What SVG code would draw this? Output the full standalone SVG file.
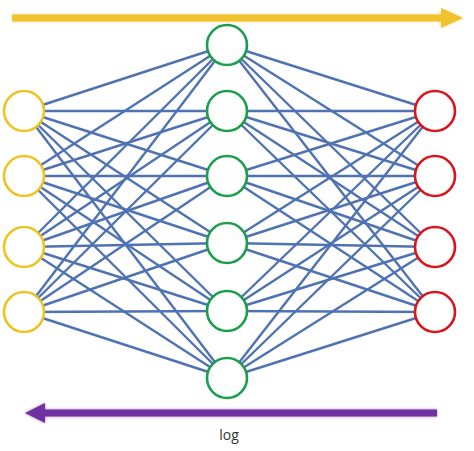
<svg xmlns="http://www.w3.org/2000/svg" width="474" height="451" viewBox="0 0 474 451">
<defs>
<filter id="glow" x="-5%" y="-100%" width="110%" height="300%"><feGaussianBlur stdDeviation="1.5"/></filter>
<style>
.c line{stroke:#4E72B2;stroke-width:2.4}
.n{fill:#fff;stroke-width:2.6}
.in{stroke:#EDC31F}
.hid{stroke:#1A9E4C}
.out{stroke:#D8141C}
text{font-family:"Open Sans","Liberation Sans",sans-serif;font-size:14px;fill:#333}
</style>
</defs>
<rect width="474" height="451" fill="#fff"/>
<g id="fwd">
<path d="M12,14.5 H441 V8 L463,18 L441,28 V21.5 H12 Z" fill="#F2C12E" filter="url(#glow)" opacity="0.6"/>
<path d="M12,14.5 H441 V8 L463,18 L441,28 V21.5 H12 Z" fill="#F2C12E"/>
</g>
<g id="back">
<path d="M437,409.5 H45 V403 L25,413 L45,423 V416.5 H437 Z" fill="#7030A0" filter="url(#glow)" opacity="0.6"/>
<path d="M437,409.5 H45 V403 L25,413 L45,423 V416.5 H437 Z" fill="#7030A0"/>
</g>
<g class="c" id="connectors">
<line x1="24" y1="111" x2="227" y2="45"/><line x1="24" y1="111" x2="227" y2="111"/><line x1="24" y1="111" x2="227" y2="176"/><line x1="24" y1="111" x2="227" y2="243"/><line x1="24" y1="111" x2="227" y2="311"/><line x1="24" y1="111" x2="227" y2="378"/>
<line x1="24" y1="176" x2="227" y2="45"/><line x1="24" y1="176" x2="227" y2="111"/><line x1="24" y1="176" x2="227" y2="176"/><line x1="24" y1="176" x2="227" y2="243"/><line x1="24" y1="176" x2="227" y2="311"/><line x1="24" y1="176" x2="227" y2="378"/>
<line x1="24" y1="247" x2="227" y2="45"/><line x1="24" y1="247" x2="227" y2="111"/><line x1="24" y1="247" x2="227" y2="176"/><line x1="24" y1="247" x2="227" y2="243"/><line x1="24" y1="247" x2="227" y2="311"/><line x1="24" y1="247" x2="227" y2="378"/>
<line x1="24" y1="312" x2="227" y2="45"/><line x1="24" y1="312" x2="227" y2="111"/><line x1="24" y1="312" x2="227" y2="176"/><line x1="24" y1="312" x2="227" y2="243"/><line x1="24" y1="312" x2="227" y2="311"/><line x1="24" y1="312" x2="227" y2="378"/>
<line x1="435" y1="111" x2="227" y2="45"/><line x1="435" y1="111" x2="227" y2="111"/><line x1="435" y1="111" x2="227" y2="176"/><line x1="435" y1="111" x2="227" y2="243"/><line x1="435" y1="111" x2="227" y2="311"/><line x1="435" y1="111" x2="227" y2="378"/>
<line x1="435" y1="176" x2="227" y2="45"/><line x1="435" y1="176" x2="227" y2="111"/><line x1="435" y1="176" x2="227" y2="176"/><line x1="435" y1="176" x2="227" y2="243"/><line x1="435" y1="176" x2="227" y2="311"/><line x1="435" y1="176" x2="227" y2="378"/>
<line x1="435" y1="247" x2="227" y2="45"/><line x1="435" y1="247" x2="227" y2="111"/><line x1="435" y1="247" x2="227" y2="176"/><line x1="435" y1="247" x2="227" y2="243"/><line x1="435" y1="247" x2="227" y2="311"/><line x1="435" y1="247" x2="227" y2="378"/>
<line x1="435" y1="312" x2="227" y2="45"/><line x1="435" y1="312" x2="227" y2="111"/><line x1="435" y1="312" x2="227" y2="176"/><line x1="435" y1="312" x2="227" y2="243"/><line x1="435" y1="312" x2="227" y2="311"/><line x1="435" y1="312" x2="227" y2="378"/>
</g>
<g id="in1"><circle class="n in" cx="24" cy="111" r="20"/></g>
<g id="in2"><circle class="n in" cx="24" cy="176" r="20"/></g>
<g id="in3"><circle class="n in" cx="24" cy="247" r="20"/></g>
<g id="in4"><circle class="n in" cx="24" cy="312" r="20"/></g>
<g id="h1"><circle class="n hid" cx="227" cy="45" r="20"/></g>
<g id="h2"><circle class="n hid" cx="227" cy="111" r="20"/></g>
<g id="h3"><circle class="n hid" cx="227" cy="176" r="20"/></g>
<g id="h4"><circle class="n hid" cx="227" cy="243" r="20"/></g>
<g id="h5"><circle class="n hid" cx="227" cy="311" r="20"/></g>
<g id="h6"><circle class="n hid" cx="227" cy="378" r="20"/></g>
<g id="o1"><circle class="n out" cx="435" cy="111" r="20"/></g>
<g id="o2"><circle class="n out" cx="435" cy="176" r="20"/></g>
<g id="o3"><circle class="n out" cx="435" cy="247" r="20"/></g>
<g id="o4"><circle class="n out" cx="435" cy="312" r="20"/></g>
<g id="label"><text x="229" y="440" text-anchor="middle">log</text></g>
</svg>
